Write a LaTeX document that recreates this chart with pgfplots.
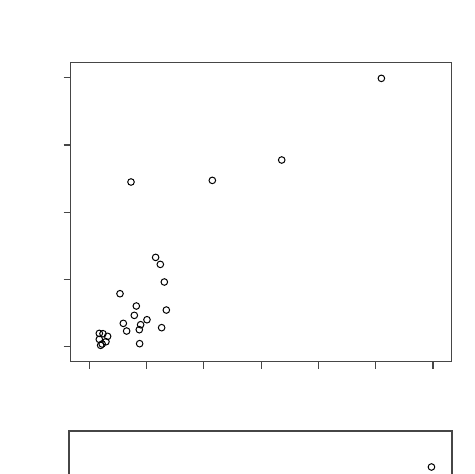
\documentclass[border=0pt]{standalone}
\usepackage{pgfplots}
\pgfplotsset{compat=1.18}

\definecolor{framegray}{RGB}{70,70,70}

\pgfplotsset{
  panel/.style={
    scale only axis,
    axis line style={framegray, line width=0.7pt},
    tick style={framegray, line width=0.6pt},
    tick align=outside,
    major tick length=3.5pt,
    xticklabels={}, yticklabels={},
    xtick pos=bottom, ytick pos=left,
    xmin=-0.328, xmax=6.327,
  },
  pts/.style={only marks, mark=o, mark size=1.65pt, black,
    mark options={line width=0.5pt}},
}

\begin{document}
\begin{tikzpicture}
\path[use as bounding box, clip] (0,0) rectangle (237pt,237pt);

% upper panel
\begin{axis}[
  panel,
  at={(35.25pt,56.15pt)}, anchor=south west,
  width=190.6pt, height=149.7pt,
  ymin=-0.223, ymax=4.229,
  xtick={0,1,2,3,4,5,6},
  ytick={0,1,2,3,4},
]
\addplot[pts] table {
x y
5.099 3.990
3.359 2.776
0.728 2.449
2.148 2.473
1.158 1.328
1.240 1.224
1.310 0.962
0.536 0.788
0.821 0.605
0.786 0.466
1.345 0.545
1.007 0.401
0.594 0.347
0.896 0.327
0.873 0.253
0.652 0.233
1.263 0.283
0.879 0.045
0.175 0.198
0.239 0.193
0.320 0.154
0.175 0.109
0.291 0.074
0.198 0.020
0.225 0.040
};
\end{axis}

% lower panel, only its top edge is in view
\begin{axis}[
  panel,
  at={(34.5pt,21.5pt)}, anchor=north west,
  width=191.5pt, height=100pt,
  ymin=0, ymax=1,
  xtick=\empty, ytick=\empty,
]
\addplot[pts] table {
x y
5.97 0.82
};
\end{axis}
\end{tikzpicture}
\end{document}
